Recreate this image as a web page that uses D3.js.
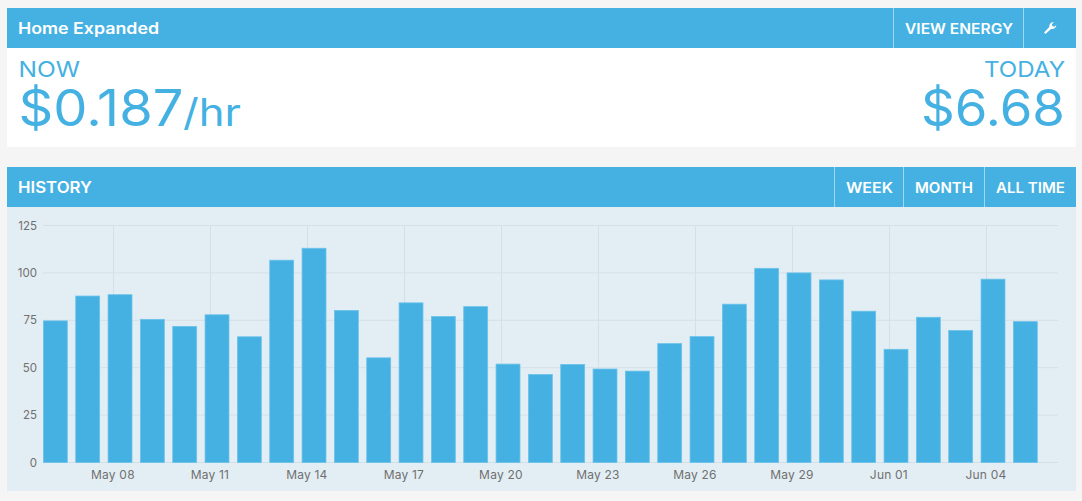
<!DOCTYPE html>
<meta charset="utf-8">
<style>
  html, body { margin: 0; padding: 0; background: #f5f5f5; overflow: hidden; }
  svg { display: block; font-family: Inter, "Open Sans", sans-serif; }
</style>

<!-- Load d3.js -->
<script src="https://d3js.org/d3.v7.min.js"></script>

<div id="my_dataviz"></div>

<script>

  // data: one bar per day, May 06 to Jun 05
  var firstDay = "2019-05-06";
  var dailyCost = [74.7, 87.8, 88.5, 75.5, 71.8, 77.9, 66.3, 106.7, 113, 80.2, 55.2, 84.2, 77, 82.2, 51.9, 46.4,
                   51.7, 49.3, 48.2, 62.7, 66.4, 83.5, 102.4, 100, 96.3, 79.8, 59.7, 76.6, 69.6, 96.7, 74.3];
  var yTicks = [0, 25, 50, 75, 100, 125];
  var xTickDays = ["2019-05-08", "2019-05-11", "2019-05-14", "2019-05-17", "2019-05-20",
                   "2019-05-23", "2019-05-26", "2019-05-29", "2019-06-01", "2019-06-04"];

  var blue = "#45b1e2", textBlue = "#45b1e2", sepColor = "#a2d7f0";

  var svg = d3.select("#my_dataviz")
    .append("svg")
      .attr("width", 1082)
      .attr("height", 501);

  // small helper, textLength keeps labels as wide as in the original font
  function label(x, y, str, size, weight, fill, anchor, len) {
    var t = svg.append("text")
      .attr("x", x).attr("y", y)
      .attr("font-size", size)
      .attr("font-weight", weight)
      .attr("fill", fill)
      .attr("text-anchor", anchor || "start")
      .text(str);
    if (len) t.attr("textLength", len).attr("lengthAdjust", "spacingAndGlyphs");
    return t;
  }

  function separator(x, y0, y1) {
    svg.append("line")
      .attr("x1", x).attr("x2", x)
      .attr("y1", y0).attr("y2", y1)
      .attr("stroke", sepColor);
  }

  // top panel
  svg.append("rect").attr("x", 7).attr("y", 8).attr("width", 1069).attr("height", 40).attr("fill", blue);
  svg.append("rect").attr("x", 7).attr("y", 48).attr("width", 1069).attr("height", 99).attr("fill", "#fff");
  label(18, 34, "Home Expanded", 15.5, 600, "#fff", "start", 141);
  label(905, 34, "VIEW ENERGY", 14, 600, "#fff", "start", 108);
  separator(893.5, 8, 48);
  separator(1023.5, 8, 48);

  // wrench icon
  svg.append("path")
    .attr("transform", "translate(1044,22)")
    .attr("d", "M0 10.5 L1.5 12 L7 7 C9.5 7.6 12 6 12.4 3 L10.2 4.8 L8.2 4 L8 2 L10 0.3 C7.5 -0.2 5 2 5.3 5 Z")
    .attr("fill", "#fff");

  label(18.5, 77, "NOW", 22, 400, textBlue, "start", 61.5);
  label(18.5, 126, "$0.187", 50, 400, textBlue, "start", 165);
  label(183, 126, "/hr", 38, 400, textBlue, "start", 58);
  label(1065, 77, "TODAY", 22, 400, textBlue, "end", 81);
  label(1065, 126, "$6.68", 50, 400, textBlue, "end", 144);

  // history panel
  svg.append("rect").attr("x", 7).attr("y", 167).attr("width", 1069).attr("height", 40).attr("fill", blue);
  svg.append("rect").attr("x", 7).attr("y", 207).attr("width", 1069).attr("height", 284).attr("fill", "#e3eef4");
  label(18, 193, "HISTORY", 15.5, 600, "#fff", "start", 74);
  label(846, 193, "WEEK", 14, 600, "#fff", "start", 47);
  label(915, 193, "MONTH", 14, 600, "#fff", "start", 58);
  label(996, 193, "ALL TIME", 14, 600, "#fff", "start", 69);
  separator(834.5, 167, 207);
  separator(903.5, 167, 207);
  separator(984.5, 167, 207);

  // scales
  var parseDay = d3.utcParse("%Y-%m-%d");
  var hour = 3600 * 1000, day = 24 * hour;
  var barShift = -3.6 * hour;   // bars start a little before their date tick
  var barSpan = 0.74 * day;
  var start = parseDay(firstDay);
  var days = dailyCost.map(function(d, i) { return new Date(+start + i * day); });

  var x = d3.scaleUtc()
    .domain([new Date(+start + barShift), new Date(+start + barShift + 31.38 * day)])
    .range([43.4, 1058]);
  var y = d3.scaleLinear()
    .domain([0, 125])
    .range([462.5, 225.5]);

  // grid
  var grid = svg.append("g").attr("stroke", "#d4e0e6").attr("stroke-width", 1);
  grid.selectAll(".h").data(yTicks).enter().append("line")
    .attr("x1", 43).attr("x2", 1058)
    .attr("y1", function(d) { return y(d); })
    .attr("y2", function(d) { return y(d); });
  grid.selectAll(".v").data(xTickDays).enter().append("line")
    .attr("x1", function(d) { return Math.round(x(parseDay(d))) + 0.5; })
    .attr("x2", function(d) { return Math.round(x(parseDay(d))) + 0.5; })
    .attr("y1", y(125)).attr("y2", y(0));

  // bars
  svg.append("g").selectAll("rect")
    .data(dailyCost)
    .enter().append("rect")
      .attr("x", function(d, i) { return x(new Date(+days[i] + barShift)); })
      .attr("y", function(d) { return y(d); })
      .attr("width", x(new Date(+start + barShift + barSpan)) - x(new Date(+start + barShift)))
      .attr("height", function(d) { return y(0) - y(d); })
      .attr("fill", blue)
      .attr("stroke", "#6cc2ea")
      .attr("stroke-width", 0.8);

  // axis labels
  var fmt = d3.utcFormat("%b %d");
  svg.append("g").selectAll("text")
    .data(yTicks).enter().append("text")
      .attr("x", 37)
      .attr("y", function(d) { return y(d) + 4; })
      .attr("text-anchor", "end")
      .attr("font-size", 11.5)
      .attr("fill", "#707070")
      .text(function(d) { return d; });
  svg.append("g").selectAll("text")
    .data(xTickDays).enter().append("text")
      .attr("x", function(d) { return x(parseDay(d)); })
      .attr("y", 479)
      .attr("text-anchor", "middle")
      .attr("font-size", 12)
      .attr("letter-spacing", 0.2)
      .attr("fill", "#707070")
      .text(function(d) { return fmt(parseDay(d)); });

</script>
